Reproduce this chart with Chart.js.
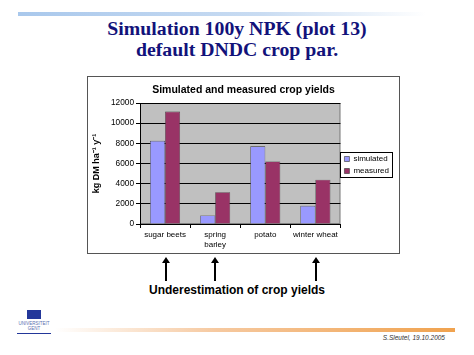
<!DOCTYPE html>
<html><head><meta charset="utf-8">
<script src="https://cdn.jsdelivr.net/npm/chart.js@4/dist/chart.umd.min.js"></script>
<style>
html,body{margin:0;padding:0;background:#fff;}
body{width:474px;height:355px;position:relative;overflow:hidden;font-family:"Liberation Sans",Arial,sans-serif;}
#topbar{position:absolute;left:18px;top:12px;width:408px;height:4px;background:linear-gradient(to right,#a9c8ec,#c9dcf2 60%,#ffffff);}
#title{position:absolute;left:0;top:18px;width:474px;text-align:center;font-family:"Liberation Serif","Times New Roman",serif;font-weight:bold;font-size:19.8px;line-height:21px;color:#12127a;}
#box{position:absolute;left:87px;top:76px;width:311px;height:176px;border:1px solid #555;}
#box canvas{display:block;}
.arrow{position:absolute;top:261px;width:2px;height:20px;background:#000;}
.arrow:before{content:"";position:absolute;left:-3px;top:-4px;border-left:4px solid transparent;border-right:4px solid transparent;border-bottom:6px solid #000;}
#under{position:absolute;left:0;top:283px;width:474px;text-align:center;font-weight:bold;font-size:12px;color:#000;}
#botbar{position:absolute;left:55px;top:328px;width:400px;height:4px;background:linear-gradient(to right,#ffffff,#f6c9a0 40%,#f0a24e);}
#sig{position:absolute;right:29px;top:334px;font-style:italic;font-size:6.5px;color:#333;}
#logo{position:absolute;left:14px;top:310px;width:40px;text-align:center;color:#5a6fb0;font-size:4.5px;line-height:5px;}
#logo .bld{margin:0 auto 2px auto;width:14px;height:9px;background:#23379a;}
#logo .ln{margin:2px auto 0 auto;width:34px;height:1px;background:#23379a;}
</style></head>
<body>
<div id="topbar"></div>
<div id="title">Simulation 100y NPK (plot 13)<br>default DNDC crop par.</div>
<div id="box"><canvas id="c" width="311" height="176"></canvas></div>
<div class="arrow" style="left:165px"></div>
<div class="arrow" style="left:214px"></div>
<div class="arrow" style="left:315px"></div>
<div id="under">Underestimation of crop yields</div>
<div id="logo"><div class="bld"></div>UNIVERSITEIT<br>GENT<div class="ln"></div></div>
<div id="botbar"></div>
<div id="sig">S.Sleutel, 19.10.2005</div>
<script>
const categories = ["sugar beets", ["spring", "barley"], "potato", "winter wheat"];
const simulated = [8250, 850, 7700, 1800];
const measured = [11150, 3150, 6200, 4400];
const yTicks = [0, 2000, 4000, 6000, 8000, 10000, 12000];

const plotBg = {
  id: 'plotBg',
  beforeDraw(chart) {
    const a = chart.chartArea, ctx = chart.ctx;
    ctx.save();
    ctx.fillStyle = '#c0c0c0';
    ctx.fillRect(a.left, a.top, a.right - a.left, a.bottom - a.top);
    ctx.strokeStyle = '#808080';
    ctx.lineWidth = 1;
    ctx.strokeRect(a.left + 0.5, a.top + 0.5, a.right - a.left - 1, a.bottom - a.top - 1);
    ctx.restore();
  },
  afterDraw(chart) {
    const lg = chart.legend;
    if (!lg || !lg.legendHitBoxes || !lg.legendHitBoxes.length) return;
    const hb = lg.legendHitBoxes;
    let l = Infinity, t = Infinity, r = -Infinity, b = -Infinity;
    hb.forEach(h => { l = Math.min(l, h.left); t = Math.min(t, h.top); r = Math.max(r, h.left + h.width); b = Math.max(b, h.top + h.height); });
    const ctx = chart.ctx;
    ctx.save();
    ctx.strokeStyle = '#000';
    ctx.lineWidth = 1;
    ctx.strokeRect(Math.round(l) - 3.5, Math.round(t) - 2.5, Math.round(r - l) + 7, Math.round(b - t) + 5);
    ctx.restore();
  }
};

new Chart(document.getElementById('c'), {
  type: 'bar',
  data: {
    labels: categories,
    datasets: [
      { label: 'simulated', data: simulated, backgroundColor: '#9999ff', borderColor: '#333', borderWidth: 0.6 },
      { label: 'measured', data: measured, backgroundColor: '#993366', borderColor: '#333', borderWidth: 0.6 }
    ]
  },
  plugins: [plotBg],
  options: {
    responsive: false,
    animation: false,
    devicePixelRatio: 1,
    layout: { padding: { left: 0, right: 0, top: 0, bottom: 0 } },
    datasets: { bar: { categoryPercentage: 0.6, barPercentage: 1.0 } },
    plugins: {
      title: { display: true, text: 'Simulated and measured crop yields', color: '#000',
        font: { family: 'Liberation Sans, Arial', size: 10.5, weight: 'bold', lineHeight: 1.2 },
        padding: { top: 7, bottom: 6.4 } },
      legend: { position: 'right', align: 'center',
        labels: { color: '#000', boxWidth: 5, boxHeight: 5, padding: 4,
          font: { family: 'Liberation Sans, Arial', size: 8 } } },
      tooltip: { enabled: false }
    },
    scales: {
      x: {
        offset: true,
        grid: { offset: true, drawOnChartArea: false, color: '#000', tickLength: 4, tickColor: '#000' },
        border: { color: '#000' },
        ticks: { color: '#000', font: { family: 'Liberation Sans, Arial', size: 8 }, padding: 2, maxRotation: 0, autoSkip: false },
        afterFit(s) { s.height = 29; }
      },
      y: {
        min: 0, max: 12000,
        afterBuildTicks(s) { s.ticks = yTicks.map(v => ({ value: v })); },
        grid: { color: '#000', tickLength: 4, tickColor: '#000' },
        border: { color: '#000' },
        ticks: { color: '#000', font: { family: 'Liberation Sans, Arial', size: 8.3 }, padding: 2,
          callback: (v) => String(v) },
        title: { display: true, text: 'kg DM ha\u207B\u00B9 y\u207B\u00B9', color: '#000',
          font: { family: 'Liberation Sans, Arial', size: 9, weight: 'bold' }, padding: { top: 3.5, bottom: 0 } },
        afterFit(s) { s.width = 52; }
      }
    }
  }
});
</script>
</body></html>
